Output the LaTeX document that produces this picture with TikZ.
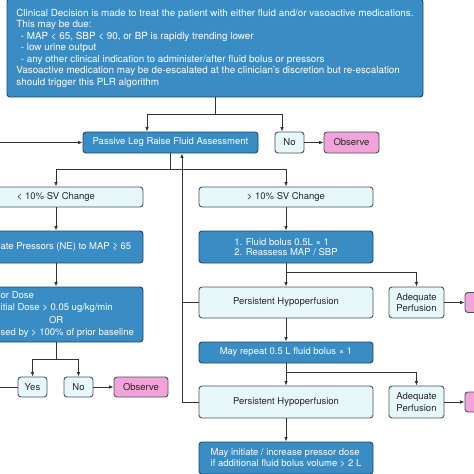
\documentclass[tikz,border=0pt]{standalone}
\usepackage{fontspec}
\setmainfont{TeX Gyre Heros}
\usetikzlibrary{arrows.meta}
\definecolor{boxblue}{RGB}{58,140,196}
\definecolor{blueline}{RGB}{30,72,104}
\definecolor{paleteal}{RGB}{232,247,249}
\definecolor{greyline}{RGB}{72,84,90}
\definecolor{observepink}{RGB}{242,164,218}
\definecolor{wire}{RGB}{50,50,50}
\begin{document}
\begin{tikzpicture}[x=1pt, y=-1pt, >={Latex[length=4.5pt,width=3.6pt]},
    every node/.style={font=\fontsize{9.5}{11.5}\selectfont, inner sep=0pt},
    box/.style={rounded corners=3pt, line width=0.9pt, align=center},
    bluebox/.style={box, fill=boxblue, draw=blueline, text=white},
    palebox/.style={box, fill=paleteal, draw=greyline, text=black!85},
    pinkbox/.style={box, fill=observepink, draw=greyline, text=black!85},
    wiring/.style={draw=wire, line width=0.8pt}]
  \useasboundingbox (0,0) rectangle (474,474);
  \clip (0,0) rectangle (474,474);

  % top decision box
  \node[bluebox, align=left, minimum width=416pt, minimum height=98pt, font=\fontsize{9.85}{11.5}\selectfont] (decision) at (215,48)
    {Clinical Decision is made to treat the patient with either fluid and/or vasoactive medications.\\
     This may be due:\\
     \hspace*{4.5pt}- MAP < 65, SBP < 90, or BP is rapidly trending lower\\
     \hspace*{4.5pt}- low urine output\\
     \hspace*{4.5pt}- any other clinical indication to administer/after fluid bolus or pressors\\
     Vasoactive medication may be de-escalated at the clinician's discretion but re-escalation\\
     should trigger this PLR algorithm};

  % assessment row
  \node[bluebox, minimum width=175pt, minimum height=21pt] (plr) at (170.5,142.5) {Passive Leg Raise Fluid Assessment};
  \node[palebox, minimum width=29pt, minimum height=21pt] (no1) at (289.5,142.5) {No};
  \node[pinkbox, minimum width=55pt, minimum height=21pt] (obs1) at (351.5,142.5) {Observe};

  % left column
  \node[palebox, minimum width=174pt, minimum height=20pt] (less) at (56,197) {< 10\% SV Change};
  \node[bluebox, minimum width=174pt, minimum height=32pt] (titrate) at (56,247) {};
  \node[text=white, anchor=west] (titrate-text) at (0.5,247) {ate Pressors (NE) to MAP ≥ 65};
  \node[bluebox, minimum width=174pt, minimum height=55pt] (prior) at (56,314.5) {};
  \node[text=white, anchor=west, align=left, font=\fontsize{9.5}{12.3}\selectfont] (prior-text) at (0.5,314.5)
    {or Dose\\itial Dose > 0.05 ug/kg/min\\\makebox[111pt]{OR}\\sed by > 100\% of prior baseline};
  \node[palebox, minimum width=29pt, minimum height=20pt] (yes) at (32.5,387) {Yes};
  \node[palebox, minimum width=29pt, minimum height=20pt] (no2) at (78.5,387) {No};
  \node[pinkbox, minimum width=54pt, minimum height=20pt] (obs2) at (141,387) {Observe};

  % right column
  \node[palebox, minimum width=174pt, minimum height=20pt] (more) at (286,197) {> 10\% SV Change};
  \node[bluebox, align=left, minimum width=174pt, minimum height=32pt, font=\fontsize{9.5}{10.7}\selectfont] (fluid) at (286,247)
    {1. Fluid bolus 0.5L × 1\\2. Reassess MAP / SBP};
  \node[palebox, minimum width=174pt, minimum height=31pt] (hypo1) at (286,302.5) {Persistent Hypoperfusion};
  \node[palebox, minimum width=55pt, minimum height=31pt] (adeq1) at (416.5,302.5) {Adequate\\Perfusion};
  \node[pinkbox, minimum width=30pt, minimum height=20pt] (pink1) at (480,302.5) {};
  \node[bluebox, minimum width=174pt, minimum height=21pt] (rebolus) at (286,352.5) {May repeat 0.5 L fluid bolus × 1};
  \node[palebox, minimum width=174pt, minimum height=32pt] (hypo2) at (286,402) {Persistent Hypoperfusion};
  \node[palebox, minimum width=55pt, minimum height=32pt] (adeq2) at (416.5,402) {Adequate\\Perfusion};
  \node[pinkbox, minimum width=30pt, minimum height=20pt] (pink2) at (480,402) {};
  \node[bluebox, align=left, minimum width=174pt, minimum height=32pt, font=\fontsize{9.5}{11}\selectfont] (initiate) at (286,458)
    {May initiate / increase pressor dose\\if additional fluid bolus volume > 2 L};

  % connectors
  \draw[wiring] (decision.south) -- ++(0,17) coordinate (topsplit);
  \draw[wiring,->] (topsplit) -| ([xshift=-23.5pt]plr.north);
  \draw[wiring,->] (topsplit) -| ([xshift=-7.5pt]no1.north);
  \draw[wiring,->] (no1) -- (obs1);
  \draw[wiring] (plr.south) -- ++(0,16) coordinate (plrsplit);
  \draw[wiring,->] (plrsplit) -| (less.north);
  \draw[wiring,->] (plrsplit) -| (more.north);

  \draw[wiring,->] (less) -- (titrate);
  \draw[wiring,->] (titrate) -- (prior);
  \draw[wiring] (prior.south) -- ++(0,17) coordinate (priorsplit);
  \draw[wiring,->] (priorsplit) -| (yes.north);
  \draw[wiring,->] (priorsplit) -| (no2.north);
  \draw[wiring,->] (no2) -- (obs2);
  \coordinate (loopback) at (-12,142.5);
  \draw[wiring,->] (yes.west) -| (loopback) -- (plr.west);

  \draw[wiring,->] (more) -- (fluid);
  \draw[wiring] (fluid.south) -- ++(0,9) coordinate (fluidsplit);
  \draw[wiring,->] (fluidsplit) -- (hypo1.north);
  \draw[wiring,->] (fluidsplit) -| (adeq1.north);
  \draw[wiring,->] (adeq1) -- (pink1);
  \draw[wiring,->] (hypo1) -- (rebolus);
  \draw[wiring] (rebolus.south) -- ++(0,9) coordinate (rebolussplit);
  \draw[wiring,->] (rebolussplit) -- (hypo2.north);
  \draw[wiring,->] (rebolussplit) -| (adeq2.north);
  \draw[wiring,->] (adeq2) -- (pink2);
  \draw[wiring,->] (hypo2) -- (initiate);

  \coordinate (feedback) at (182,0);
  \draw[wiring] (hypo1.west) -- (hypo1.west -| feedback);
  \draw[wiring,->] (hypo2.west) -| (feedback |- plr.south);
\end{tikzpicture}
\end{document}
